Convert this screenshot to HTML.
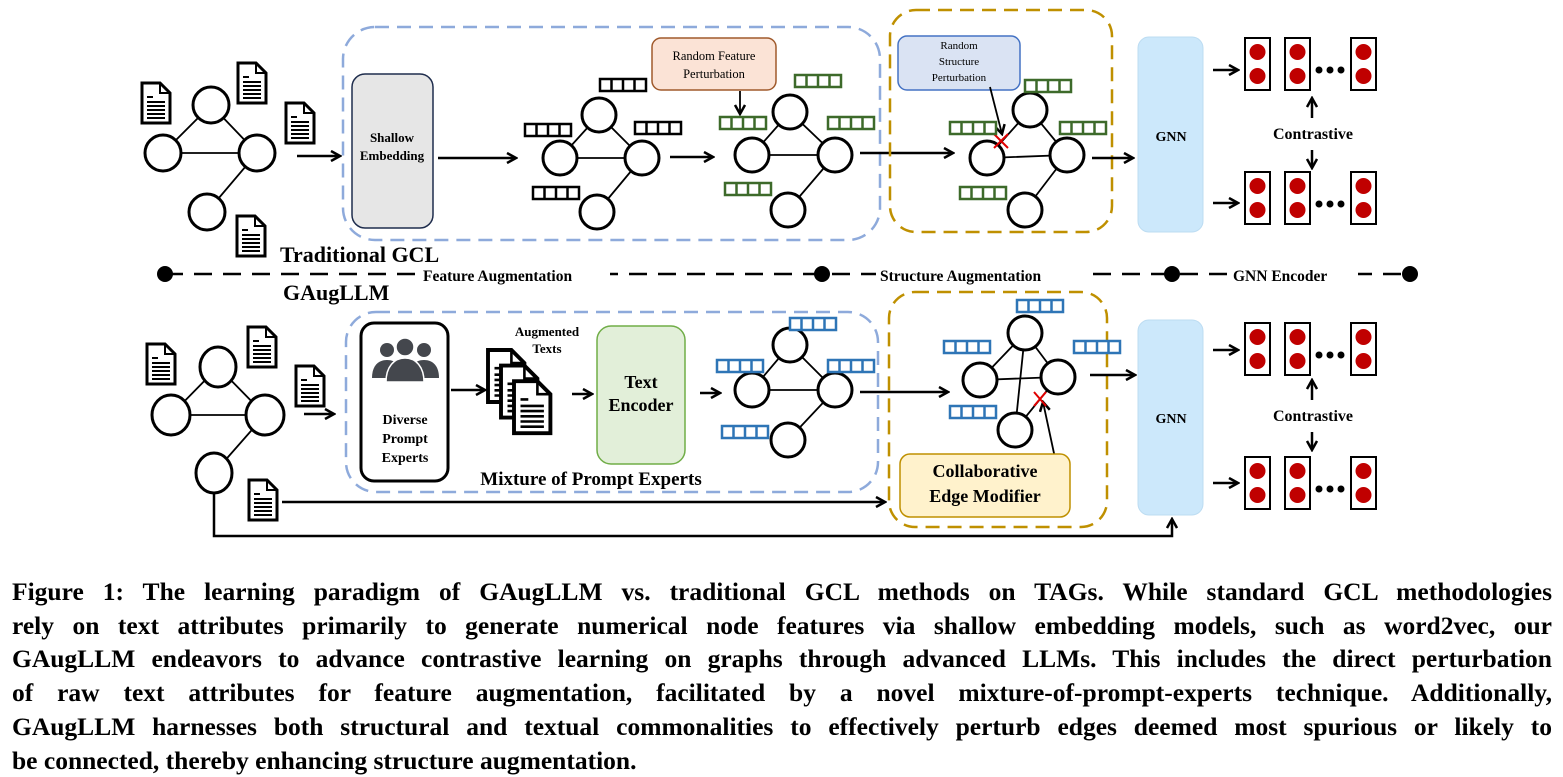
<!DOCTYPE html>
<html><head><meta charset="utf-8"><style>
body{margin:0;background:#fff;width:1563px;height:776px;overflow:hidden;position:relative;font-family:"Liberation Serif",serif}
svg{position:absolute;left:0;top:0}
.cap{position:absolute;left:12px;top:575px;width:1540px;font-weight:bold;font-size:25.5px;line-height:33.7px;color:#000}
.cap span{display:block;text-align:justify;text-align-last:justify;white-space:nowrap}
.cap span.l{text-align-last:left}
text{font-family:"Liberation Serif",serif;font-weight:bold}
</style></head><body>
<svg width="1563" height="570" viewBox="0 0 1563 570">
<defs>
<marker id="a" markerWidth="12" markerHeight="12" refX="10" refY="6" orient="auto" markerUnits="userSpaceOnUse"><path d="M1,1 L10,6 L1,11" fill="none" stroke="#000" stroke-width="2.5"/></marker>
<g id="doc"><path d="M0,0 H18 L28,10 V40 H0 Z" fill="#fff" stroke="#000" stroke-width="3"/><path d="M18,0 V10 H28" fill="none" stroke="#000" stroke-width="2"/><path d="M5,14h6M5,19h18M5,23h18M5,27h18M5,31h18M5,35h18" stroke="#000" stroke-width="2"/></g>
<g id="vk"><rect x="0" y="0" width="46" height="12" fill="#fff" stroke="#000" stroke-width="2.5"/><path d="M11.5,0v12M23,0v12M34.5,0v12" stroke="#000" stroke-width="2.5"/></g>
<g id="vg"><rect x="0" y="0" width="46" height="12" fill="#fff" stroke="#3d6a2a" stroke-width="2.5"/><path d="M11.5,0v12M23,0v12M34.5,0v12" stroke="#3d6a2a" stroke-width="2.5"/></g>
<g id="vb"><rect x="0" y="0" width="46" height="12" fill="#fff" stroke="#2e75b6" stroke-width="2.5"/><path d="M11.5,0v12M23,0v12M34.5,0v12" stroke="#2e75b6" stroke-width="2.5"/></g>
<g id="col"><rect x="0" y="0" width="25" height="52" fill="#fff" stroke="#000" stroke-width="2"/><circle cx="12.5" cy="14" r="8" fill="#c00000"/><circle cx="12.5" cy="38" r="8" fill="#c00000"/></g>
<g id="emb"><use href="#col" x="0"/><use href="#col" x="40"/><use href="#col" x="106"/><circle cx="74" cy="32" r="3.5"/><circle cx="85" cy="32" r="3.5"/><circle cx="96" cy="32" r="3.5"/></g>
</defs>
<g stroke="#000" stroke-width="2.5" fill="none">
<path d="M211,105L163,153M211,105L257,153M163,153L257,153M257,153L207,212" stroke-width="1.8"/>
<g fill="#fff" stroke-width="3"><circle cx="211" cy="105" r="18"/><circle cx="163" cy="153" r="18"/><circle cx="257" cy="153" r="18"/><circle cx="207" cy="212" r="18"/></g>
<path d="M297,156H340" marker-end="url(#a)"/>
<rect x="343" y="27" width="537" height="213" rx="32" stroke="#8eaadb" stroke-dasharray="14 8"/>
<rect x="352" y="74" width="81" height="154" rx="13" fill="#e6e6e6" stroke="#1f2d4d" stroke-width="1.5"/>
<path d="M438,158H516" marker-end="url(#a)"/>
<path d="M599,115L560,158M599,115L642,158M560,158L642,158M642,158L597,212" stroke-width="1.8"/>
<g fill="#fff" stroke-width="3"><circle cx="599" cy="115" r="17"/><circle cx="560" cy="158" r="17"/><circle cx="642" cy="158" r="17"/><circle cx="597" cy="212" r="17"/></g>
<path d="M670,157H713" marker-end="url(#a)"/>
<path d="M790,112L752,155M790,112L835,155M752,155L835,155M835,155L788,210" stroke-width="1.8"/>
<g fill="#fff" stroke-width="3"><circle cx="790" cy="112" r="17"/><circle cx="752" cy="155" r="17"/><circle cx="835" cy="155" r="17"/><circle cx="788" cy="210" r="17"/></g>
<rect x="652" y="38" width="124" height="52" rx="9" fill="#fbe3d6" stroke="#a05a2c" stroke-width="1.5"/>
<path d="M740,91V114" stroke-width="1.8" marker-end="url(#a)"/>
<path d="M860,153H953" marker-end="url(#a)"/>
<rect x="890" y="10" width="222" height="222" rx="26" stroke="#bf9000" stroke-dasharray="14 8"/>
<rect x="898" y="36" width="122" height="54" rx="9" fill="#dae3f3" stroke="#4472c4" stroke-width="1.5"/>
<path d="M1030,110L987,158M1030,110L1067,155M987,158L1067,155M1067,155L1025,210" stroke-width="1.8"/>
<g fill="#fff" stroke-width="3"><circle cx="1030" cy="110" r="17"/><circle cx="987" cy="158" r="17"/><circle cx="1067" cy="155" r="17"/><circle cx="1025" cy="210" r="17"/></g>
<path d="M990,87L1002,134" stroke-width="1.8" marker-end="url(#a)"/>
<path d="M994,134L1008,148M1008,134L994,148" stroke="#e00000" stroke-width="2"/>
<path d="M1092,158H1133" marker-end="url(#a)"/>
<rect x="1138" y="37" width="65" height="195" rx="11" fill="#cce8fb" stroke="#bcdcf2" stroke-width="1"/>
<path d="M1213,70H1238" marker-end="url(#a)"/>
<path d="M1213,203H1238" marker-end="url(#a)"/>
<path d="M1312,118V98" marker-end="url(#a)"/>
<path d="M1312,150V168" marker-end="url(#a)"/>
<path d="M165,274H1410" stroke-dasharray="18 11"/>
</g>
<use href="#vk" x="600" y="79"/><use href="#vk" x="525" y="124"/><use href="#vk" x="635" y="122"/><use href="#vk" x="533" y="187"/>
<use href="#vg" x="795" y="75"/><use href="#vg" x="720" y="117"/><use href="#vg" x="828" y="117"/><use href="#vg" x="725" y="183"/>
<use href="#vg" x="1025" y="80"/><use href="#vg" x="950" y="122"/><use href="#vg" x="1060" y="122"/><use href="#vg" x="960" y="187"/>
<use href="#doc" x="142" y="83"/><use href="#doc" x="238" y="63"/><use href="#doc" x="286" y="103"/><use href="#doc" x="237" y="216"/>
<use href="#emb" x="1245" y="38"/><use href="#emb" x="1245" y="172"/>
<g font-size="13" text-anchor="middle"><text x="392" y="142">Shallow</text><text x="392" y="160">Embedding</text></g>
<g font-size="12.5" text-anchor="middle"><text x="714" y="60" style="font-weight:normal">Random Feature</text><text x="714" y="78" style="font-weight:normal">Perturbation</text></g>
<g font-size="11" text-anchor="middle"><text x="959" y="49" style="font-weight:normal">Random</text><text x="959" y="65" style="font-weight:normal">Structure</text><text x="959" y="81" style="font-weight:normal">Perturbation</text></g>
<text x="1171" y="141" font-size="14" text-anchor="middle">GNN</text>
<text x="1313" y="139" font-size="16" text-anchor="middle" fill="#fff" stroke="#fff" stroke-width="6">Contrastive</text>
<text x="1313" y="139" font-size="16" text-anchor="middle">Contrastive</text>
<rect x="418" y="263" width="192" height="22" fill="#fff"/><rect x="876" y="263" width="206" height="22" fill="#fff"/><rect x="1228" y="263" width="130" height="22" fill="#fff"/>
<g fill="#000"><circle cx="165" cy="274" r="8"/><circle cx="822" cy="274" r="8"/><circle cx="1172" cy="274" r="8"/><circle cx="1410" cy="274" r="8"/></g>
<text x="280" y="262" font-size="22">Traditional GCL</text>
<text x="283" y="300" font-size="22">GAugLLM</text>
<text x="423" y="281" font-size="15.5">Feature Augmentation</text>
<text x="880" y="281" font-size="15.5">Structure Augmentation</text>
<text x="1233" y="281" font-size="15.5">GNN Encoder</text>
<g stroke="#000" stroke-width="2.5" fill="none">
<path d="M218,367L171,415M218,367L265,415M171,415L265,415M265,415L214,473" stroke-width="1.8"/>
<g fill="#fff" stroke-width="3"><ellipse cx="218" cy="367" rx="18" ry="20"/><ellipse cx="171" cy="415" rx="19" ry="20"/><ellipse cx="265" cy="415" rx="19" ry="20"/><ellipse cx="214" cy="473" rx="18" ry="20"/></g>
<path d="M304,414H334" marker-end="url(#a)"/>
<rect x="346" y="312" width="532" height="180" rx="30" stroke="#8eaadb" stroke-dasharray="14 8"/>
<rect x="361" y="323" width="87" height="158" rx="13" fill="#fff" stroke="#000" stroke-width="3"/>
<path d="M451,390H485" marker-end="url(#a)"/>
<path d="M572,394H592" marker-end="url(#a)"/>
<rect x="597" y="326" width="88" height="138" rx="14" fill="#e2efd9" stroke="#70ad47" stroke-width="1.5"/>
<path d="M700,393H720" marker-end="url(#a)"/>
<path d="M790,345L752,390M790,345L835,390M752,390L835,390M835,390L788,440" stroke-width="1.8"/>
<g fill="#fff" stroke-width="3"><circle cx="790" cy="345" r="17"/><circle cx="752" cy="390" r="17"/><circle cx="835" cy="390" r="17"/><circle cx="788" cy="440" r="17"/></g>
<path d="M860,392H948" marker-end="url(#a)"/>
<rect x="889" y="292" width="218" height="235" rx="26" stroke="#bf9000" stroke-dasharray="14 8"/>
<path d="M1025,333L980,380M1025,333L1058,377M980,380L1058,377M1025,333L1015,430M1058,377L1015,430" stroke-width="1.8"/>
<g fill="#fff" stroke-width="3"><circle cx="1025" cy="333" r="17"/><circle cx="980" cy="380" r="17"/><circle cx="1058" cy="377" r="17"/><circle cx="1015" cy="430" r="17"/></g>
<path d="M1055,458L1043,402" stroke-width="1.8" marker-end="url(#a)"/>
<path d="M1034,392L1046,406M1046,392L1034,406" stroke="#e00000" stroke-width="2"/>
<rect x="900" y="454" width="170" height="63" rx="10" fill="#fff2cc" stroke="#bf9000" stroke-width="1.5"/>
<path d="M1090,375H1135" marker-end="url(#a)"/>
<rect x="1138" y="320" width="65" height="195" rx="11" fill="#cce8fb" stroke="#bcdcf2" stroke-width="1"/>
<path d="M1213,350H1238" marker-end="url(#a)"/>
<path d="M1213,483H1238" marker-end="url(#a)"/>
<path d="M1312,400V380" marker-end="url(#a)"/>
<path d="M1312,432V450" marker-end="url(#a)"/>
<path d="M282,502H885" marker-end="url(#a)"/>
<path d="M214,493V536H1172V519" marker-end="url(#a)"/>
</g>
<use href="#doc" x="147" y="344"/><use href="#doc" x="248" y="327"/><use href="#doc" x="296" y="366"/><use href="#doc" x="249" y="480"/>
<g transform="translate(488,350) scale(1.3)"><use href="#doc" x="0" y="0"/><use href="#doc" x="10" y="12"/><use href="#doc" x="20" y="24"/></g>
<use href="#vb" x="790" y="318"/><use href="#vb" x="717" y="360"/><use href="#vb" x="828" y="360"/><use href="#vb" x="722" y="426"/>
<use href="#vb" x="1017" y="300"/><use href="#vb" x="944" y="341"/><use href="#vb" x="1074" y="341"/><use href="#vb" x="950" y="406"/>
<use href="#emb" x="1245" y="323"/><use href="#emb" x="1245" y="457"/>
<g fill="#44474d"><circle cx="387" cy="350" r="7"/><path d="M372,378c0-12 6-18 15-18s15,6 15,18z"/><circle cx="424" cy="350" r="7"/><path d="M409,378c0-12 6-18 15-18s15,6 15,18z"/><circle cx="405" cy="347" r="9" stroke="#fff" stroke-width="1.5"/><path d="M386,382c0-15 8-24 19-24s19,9 19,24z" stroke="#fff" stroke-width="1.5"/></g>
<g font-size="14" text-anchor="middle"><text x="405" y="424">Diverse</text><text x="405" y="443">Prompt</text><text x="405" y="462">Experts</text></g>
<g font-size="13" text-anchor="middle"><text x="547" y="336">Augmented</text><text x="547" y="353">Texts</text></g>
<g font-size="18" text-anchor="middle"><text x="641" y="388">Text</text><text x="641" y="411">Encoder</text></g>
<text x="591" y="485" font-size="19" text-anchor="middle">Mixture of Prompt Experts</text>
<g font-size="18" text-anchor="middle"><text x="985" y="477">Collaborative</text><text x="985" y="502">Edge Modifier</text></g>
<text x="1171" y="423" font-size="14" text-anchor="middle">GNN</text>
<text x="1313" y="421" font-size="16" text-anchor="middle" fill="#fff" stroke="#fff" stroke-width="6">Contrastive</text>
<text x="1313" y="421" font-size="16" text-anchor="middle">Contrastive</text>
</svg>
<div class="cap"><span>Figure 1: The learning paradigm of GAugLLM vs. traditional GCL methods on TAGs. While standard GCL methodologies</span><span>rely on text attributes primarily to generate numerical node features via shallow embedding models, such as word2vec, our</span><span>GAugLLM endeavors to advance contrastive learning on graphs through advanced LLMs. This includes the direct perturbation</span><span>of raw text attributes for feature augmentation, facilitated by a novel mixture-of-prompt-experts technique. Additionally,</span><span>GAugLLM harnesses both structural and textual commonalities to effectively perturb edges deemed most spurious or likely to</span><span class="l">be connected, thereby enhancing structure augmentation.</span></div>
</body></html>
